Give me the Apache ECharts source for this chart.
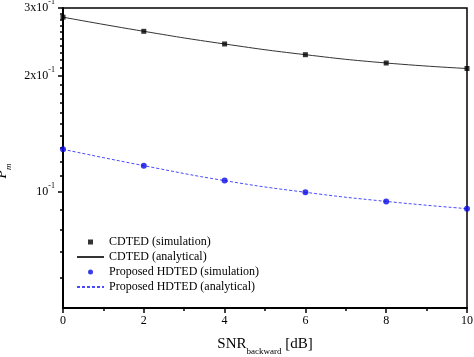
<!DOCTYPE html>
<html><head><meta charset="utf-8">
<script src="https://cdn.jsdelivr.net/npm/echarts@6/dist/echarts.min.js"></script>
<style>html,body{margin:0;padding:0;background:#fff}#c{width:474px;height:357px}</style>
</head><body><div id="c"></div>
<script>
const snr = [0, 2, 4, 6, 8, 10];
const cdtedSim = [0.284, 0.261, 0.242, 0.227, 0.216, 0.209];
const cdtedAna = [0.284, 0.261, 0.242, 0.227, 0.216, 0.209];
const hdtedSim = [0.129, 0.117, 0.107, 0.0998, 0.0945, 0.0905];
const hdtedAna = [0.129, 0.117, 0.107, 0.0998, 0.0945, 0.0905];
const seriesNames = ['CDTED (simulation)', 'CDTED (analytical)', 'Proposed HDTED (simulation)', 'Proposed HDTED (analytical)'];
const xTicks = [0, 2, 4, 6, 8, 10];
const yTickValues = [0.1, 0.2, 0.3];
const yTickMantissa = ['', '2x', '3x'];
const yTickExponent = ['-1', '-1', '-1'];
const yMinorTicks = [0.06, 0.07, 0.08, 0.09, 0.11, 0.12, 0.13, 0.14, 0.15, 0.16, 0.17, 0.18, 0.19,
  0.21, 0.22, 0.23, 0.24, 0.25, 0.26, 0.27, 0.28, 0.29];

const FONT = '"Liberation Serif", "DejaVu Serif", serif';
const pairs = arr => snr.map((x, i) => [x, arr[i]]);
const noSymbol = { color: 'rgba(0,0,0,0)', borderWidth: 0, opacity: 0 };

const chart = echarts.init(document.getElementById('c'), null, { renderer: 'canvas' });
chart.setOption({
  animation: false,
  backgroundColor: '#fff',
  grid: { left: 63, right: 7, top: 8, bottom: 49, show: true, borderColor: '#000', borderWidth: 1.5, outerBoundsMode: 'none' },
  legend: {
    orient: 'vertical', left: 71, top: 230,
    itemWidth: 27, itemHeight: 5, itemGap: 1,
    textStyle: { fontFamily: FONT, fontSize: 12, color: '#000', lineHeight: 14 },
    data: [
      { name: seriesNames[0], icon: 'path://M0,0L10,0L10,10L0,10Z' },
      { name: seriesNames[1], itemStyle: noSymbol },
      { name: seriesNames[2], icon: 'circle' },
      { name: seriesNames[3], itemStyle: noSymbol }
    ]
  },
  xAxis: {
    type: 'value', min: 0, max: 10, interval: 2,
    name: '{a|SNR}{b|backward}{a| [dB]}',
    nameLocation: 'middle', nameGap: 29,
    nameTextStyle: {
      rich: {
        a: { fontFamily: FONT, fontSize: 15, lineHeight: 15, verticalAlign: 'top', color: '#000' },
        b: { fontFamily: FONT, fontSize: 9, lineHeight: 9, padding: [10, 0, 0, 0], verticalAlign: 'top', color: '#000' }
      }
    },
    axisLine: { show: true, lineStyle: { color: '#000', width: 2 } },
    axisTick: { show: true, inside: false, length: 5, lineStyle: { color: '#000', width: 1.5 } },
    minorTick: { show: true, splitNumber: 2, length: 3, lineStyle: { color: '#000', width: 1.5 } },
    axisLabel: {
      margin: 7, fontFamily: FONT, fontSize: 12, color: '#000',
      customValues: xTicks,
      formatter: v => String(v)
    },
    splitLine: { show: false }
  },
  yAxis: [{
    type: 'log', logBase: 10, min: 0.05, max: 0.3,
    name: '{p|P}{s|m}',
    nameLocation: 'middle', nameGap: 37, nameRotate: 90,
    nameTextStyle: {
      padding: [0, 26, 0, 0],
      rich: {
        p: { fontFamily: FONT, fontSize: 14, fontStyle: 'italic', lineHeight: 14, verticalAlign: 'top', color: '#000' },
        s: { fontFamily: FONT, fontSize: 9, fontStyle: 'italic', lineHeight: 9, padding: [9, 0, 0, 0], verticalAlign: 'top', color: '#000' }
      }
    },
    axisLine: { show: true, lineStyle: { color: '#000', width: 2 } },
    axisTick: { show: true, inside: false, length: 5, customValues: yTickValues, lineStyle: { color: '#000', width: 1.5 } },
    axisLabel: {
      margin: 8, color: '#000',
      customValues: yTickValues,
      formatter: v => {
        const i = yTickValues.findIndex(t => Math.abs(t - v) < 1e-6);
        if (i < 0) return '';
        return '{b|' + yTickMantissa[i] + '10}{sup|' + yTickExponent[i] + '}';
      },
      rich: {
        b: { fontFamily: FONT, fontSize: 12, lineHeight: 12, verticalAlign: 'bottom', color: '#000' },
        sup: { fontFamily: FONT, fontSize: 8, lineHeight: 8, padding: [0, 0, 8, 0], verticalAlign: 'bottom', color: '#000' }
      }
    },
    splitLine: { show: false }
  }, {
    type: 'log', logBase: 10, min: 0.05, max: 0.3, position: 'left', gridIndex: 0,
    axisLine: { show: false },
    axisTick: { show: true, inside: false, length: 3, customValues: yMinorTicks, lineStyle: { color: '#000', width: 1.5 } },
    axisLabel: { show: false },
    splitLine: { show: false }
  }],
  series: [{
    name: seriesNames[0], type: 'scatter', symbol: 'rect', symbolSize: 5,
    itemStyle: { color: '#000' }, data: pairs(cdtedSim), z: 4
  }, {
    name: seriesNames[1], type: 'line', smooth: true, symbol: 'none', showSymbol: false,
    lineStyle: { color: '#333', width: 1 }, itemStyle: { color: '#333' }, data: pairs(cdtedAna), z: 3
  }, {
    name: seriesNames[2], type: 'scatter', symbol: 'circle', symbolSize: 6,
    itemStyle: { color: '#0a0ae6' }, data: pairs(hdtedSim), z: 4
  }, {
    name: seriesNames[3], type: 'line', smooth: true, symbol: 'none', showSymbol: false,
    lineStyle: { color: '#4a4aff', width: 1, type: [3, 2] }, itemStyle: { color: '#4a4aff' }, data: pairs(hdtedAna), z: 3
  }]
});
</script>
</body></html>
